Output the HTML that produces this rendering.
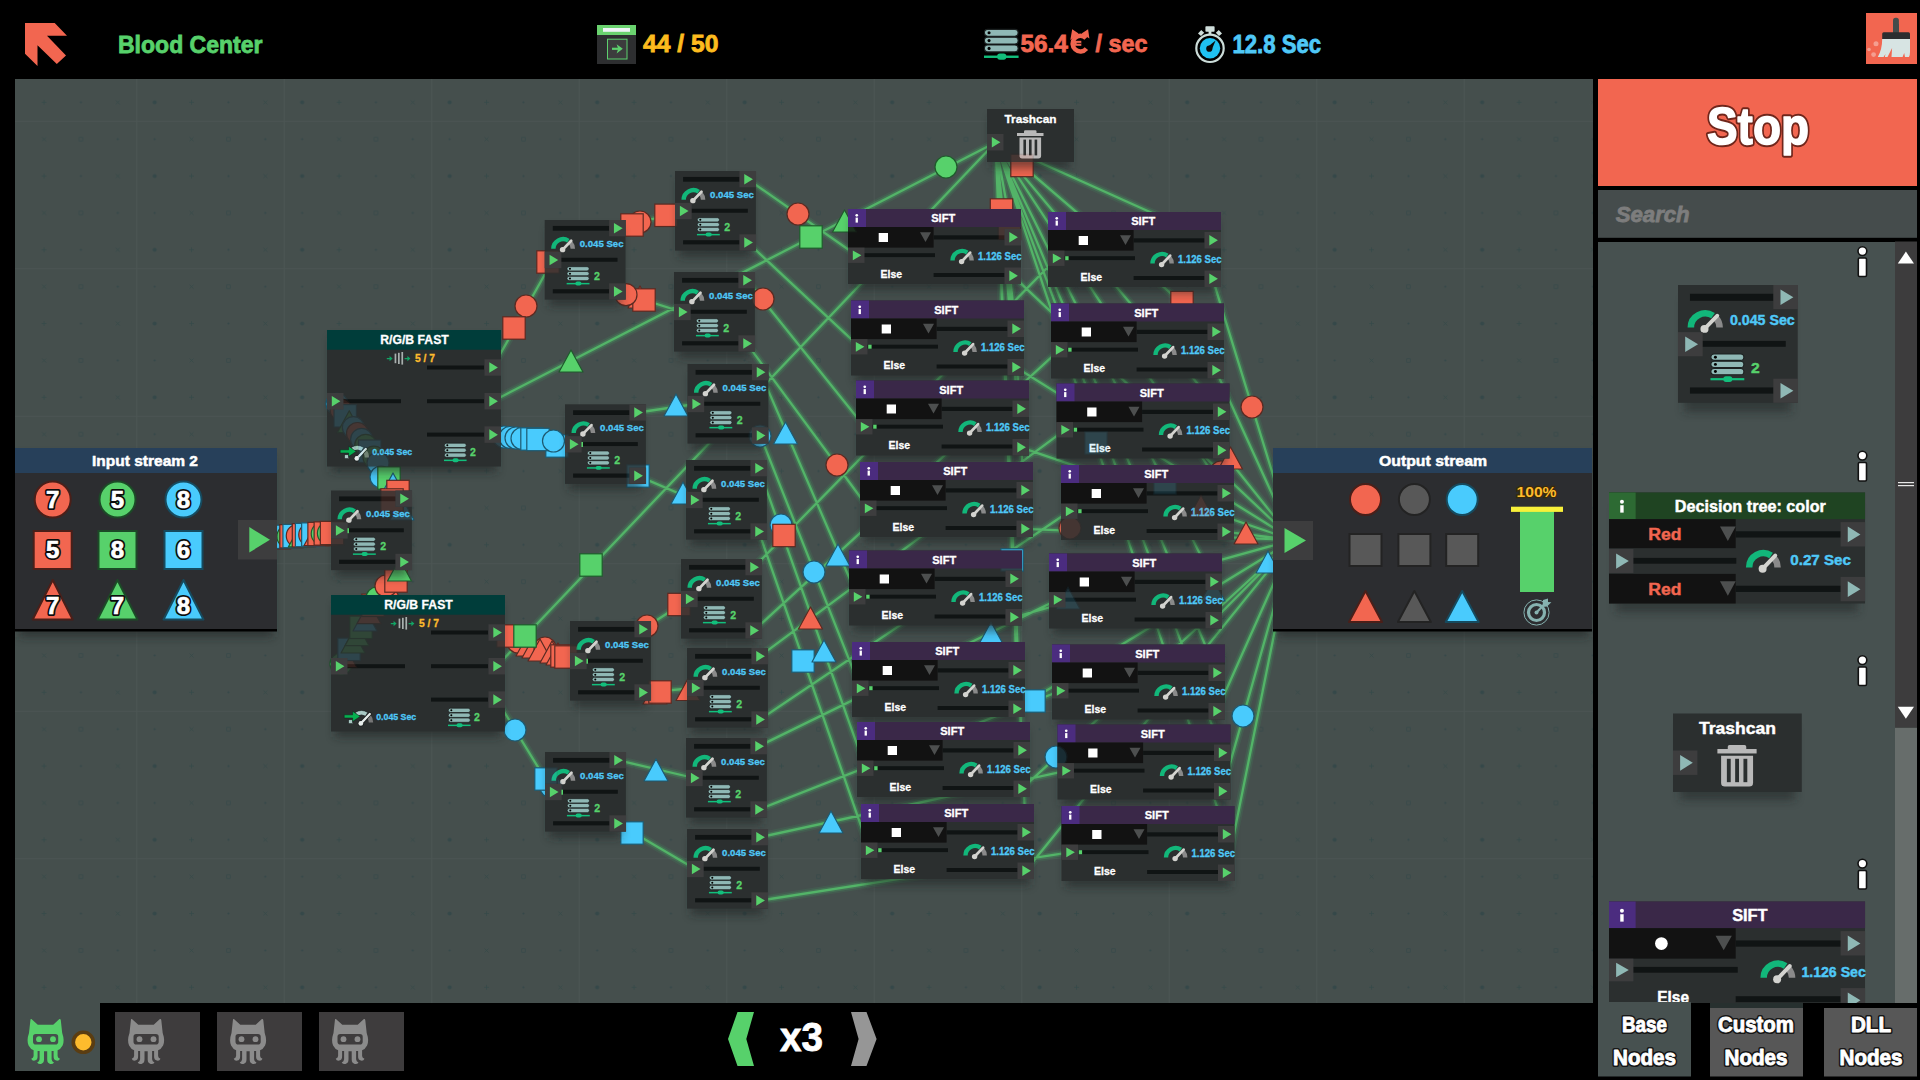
<!DOCTYPE html><html><head><meta charset="utf-8"><title>Blood Center</title>
<style>html,body{margin:0;padding:0;background:#000;width:1920px;height:1080px;overflow:hidden}svg{display:block}text{font-family:"Liberation Sans",sans-serif;font-weight:bold}</style></head><body>
<svg width="1920" height="1080" viewBox="0 0 1920 1080">
<defs>
<pattern id="grid" x="136.25" y="120.75" width="147.5" height="73.75" patternUnits="userSpaceOnUse">
<rect width="147.5" height="73.75" fill="#454f4d"/>
<rect x="0" y="0" width="1" height="73.75" fill="#4c5654"/>
<circle cx="18.44" cy="18.44" r="1.1" fill="#354849"/>
<path d="M53.31 16.44l4 4M57.31 16.44l-4 4" stroke="#354849" stroke-width="0.8"/>
<rect x="90.44" y="16.69" width="3.5" height="3.5" fill="none" stroke="#354849" stroke-width="0.7"/>
<circle cx="129.06" cy="18.44" r="1.1" fill="#354849"/>
<circle cx="18.44" cy="55.31" r="2.1" fill="#354849"/>
<path d="M52.81 55.31h5M55.31 52.81v5" stroke="#354849" stroke-width="0.8"/>
<circle cx="92.19" cy="55.31" r="1.1" fill="#354849"/>
<path d="M127.06 53.31l4 4M131.06 53.31l-4 4" stroke="#354849" stroke-width="0.8"/>
</pattern>
<g id="gauge"><path d="M0 12.2 A11.8 11.8 0 0 1 18.23 2.3 L15.83 5.99 A7.4 7.4 0 0 0 4.4 12.2 Z" fill="#12b77a"/><path d="M20.84 4.62 A11.8 11.8 0 0 1 23.6 12.2 L19.2 12.2 A7.4 7.4 0 0 0 17.47 7.44 Z" fill="#8a8a8a"/><path d="M11.4 13.1L19.8 4.2" stroke="#d3d3cf" stroke-width="2.7" stroke-linecap="round"/><circle cx="11.3" cy="13.2" r="2.7" fill="#d3d3cf"/></g>
<g id="gaugein"><path d="M5.55 2.19 A11.8 11.8 0 0 1 18.23 2.3 L15.83 5.99 A7.4 7.4 0 0 0 7.88 5.92 Z" fill="#a9c9c5" stroke="#161a1a" stroke-width="0.6"/><path d="M20.84 4.62 A11.8 11.8 0 0 1 23.6 12.2 L19.2 12.2 A7.4 7.4 0 0 0 17.47 7.44 Z" fill="#767676"/><path d="M11.3 13.2L20.2 3.8" stroke="#161a1a" stroke-width="3.6" stroke-linecap="round"/><circle cx="11.2" cy="13.2" r="3" fill="#161a1a"/><path d="M11.3 13.2L20.2 3.8" stroke="#e6ecea" stroke-width="2.3" stroke-linecap="round"/><circle cx="11.2" cy="13.2" r="2.4" fill="#e6ecea"/><rect x="-1" y="9.6" width="4" height="3.8" fill="#a9c9c5" stroke="#161a1a" stroke-width="0.5"/><path d="M-5.4 4.6H3V1L10.6 6.2L3 11.4V7.8H-5.4Z" fill="#06b050" stroke="#161a1a" stroke-width="0.5"/></g>
<g id="srv"><rect x="0.3" y="0.2" width="22" height="4.3" rx="2.1" fill="#8fb8b5" stroke="#1b2020" stroke-width="0.7"/><circle cx="3.3" cy="2.35" r="1" fill="#000"/><rect x="0.3" y="5.1" width="22" height="4.3" rx="2.1" fill="#8fb8b5" stroke="#1b2020" stroke-width="0.7"/><circle cx="3.3" cy="7.25" r="1" fill="#000"/><rect x="0.3" y="10" width="22" height="4.3" rx="2.1" fill="#8fb8b5" stroke="#1b2020" stroke-width="0.7"/><circle cx="3.3" cy="12.15" r="1" fill="#000"/><rect x="0" y="16.6" width="22.6" height="1.5" fill="#12bf7c"/><rect x="8.6" y="15.3" width="6" height="3.9" rx="1.8" fill="#12bf7c"/></g>
<g id="pt"><rect width="16.5" height="16.5" fill="#3d3d3e"/><path d="M4.8 3v10.6l8.6-5.3z" fill="#57d16b"/></g>
<g id="ptg"><rect width="16.5" height="16.5" fill="#3d3d3e"/><path d="M4.8 3v10.6l8.6-5.3z" fill="#8fb8b5"/></g>
<g id="sn"><g transform="scale(1.011 0.989)"><rect width="80" height="80.5" fill="#2b2f2f"/><rect x="8" y="6" width="56" height="4.8" fill="#101414"/><use href="#pt" x="63.7" y="0"/><use href="#gauge" x="6.4" y="16.8"/><text x="34.7" y="27.2" font-size="10" fill="#4fc8f7" textLength="43.3" lengthAdjust="spacingAndGlyphs" stroke="#4fc8f7" stroke-width="0.3">0.045 Sec</text><rect x="16" y="38.2" width="56" height="4" fill="#101414"/><use href="#pt" x="0" y="32.2"/><use href="#srv" x="21.7" y="47"/><text x="48.8" y="60.2" font-size="10.5" fill="#57d16b" stroke="#57d16b" stroke-width="0.3">2</text><rect x="8" y="70" width="56" height="4.2" fill="#101414"/><use href="#pt" x="63.7" y="64"/></g></g>
<g id="sng"><g transform="scale(1.011 0.989)"><rect width="80" height="80.5" fill="#2b2f2f"/><rect x="8" y="6" width="56" height="4.8" fill="#101414"/><use href="#ptg" x="63.7" y="0"/><use href="#gauge" x="6.4" y="16.8"/><text x="34.7" y="27.2" font-size="10" fill="#4fc8f7" textLength="43.3" lengthAdjust="spacingAndGlyphs" stroke="#4fc8f7" stroke-width="0.3">0.045 Sec</text><rect x="16" y="38.2" width="56" height="4" fill="#101414"/><use href="#ptg" x="0" y="32.2"/><use href="#srv" x="21.7" y="47"/><text x="48.8" y="60.2" font-size="10.5" fill="#57d16b" stroke="#57d16b" stroke-width="0.3">2</text><rect x="8" y="70" width="56" height="4.2" fill="#101414"/><use href="#ptg" x="63.7" y="64"/></g></g>
<g id="sift"><rect width="173" height="75" fill="#2b2f2f"/><rect width="173" height="18" fill="#3a2848"/><rect width="18" height="18" fill="#4b2c7f"/><rect x="7.6" y="8.6" width="2.3" height="5" fill="#fff"/><circle cx="8.75" cy="6.3" r="1.35" fill="#fff"/><text x="95.2" y="13" font-size="11.3" fill="#fff" text-anchor="middle" textLength="24" lengthAdjust="spacingAndGlyphs" stroke="#fff" stroke-width="0.3">SIFT</text><rect x="0" y="18" width="85.6" height="20.6" fill="#121212"/><rect x="30.7" y="24" width="9.3" height="9" fill="#fff"/><path d="M72 23.2h11l-5.5 9.8z" fill="#4d4f4f"/><rect x="85.6" y="26.3" width="71" height="4.2" fill="#101414"/><use href="#pt" x="156.5" y="20"/><rect x="16" y="44.2" width="71" height="3.9" fill="#101414"/><g transform="translate(0 38.6) scale(1 0.93)"><use href="#pt"/></g><use href="#gauge" x="102.3" y="39.4"/><text x="130" y="50.8" font-size="10" fill="#4fc8f7" textLength="43.5" lengthAdjust="spacingAndGlyphs" stroke="#4fc8f7" stroke-width="0.3">1.126 Sec</text><text x="32.6" y="68.8" font-size="11.2" fill="#fff" textLength="21.5" lengthAdjust="spacingAndGlyphs" stroke="#fff" stroke-width="0.3">Else</text><rect x="85.6" y="64" width="71" height="4" fill="#101414"/><use href="#pt" x="156.5" y="58.5"/></g>
<g id="siftg"><rect width="173" height="75" fill="#2b2f2f"/><rect width="173" height="18" fill="#3a2848"/><rect width="18" height="18" fill="#4b2c7f"/><rect x="7.6" y="8.6" width="2.3" height="5" fill="#fff"/><circle cx="8.75" cy="6.3" r="1.35" fill="#fff"/><text x="95.2" y="13" font-size="11.3" fill="#fff" text-anchor="middle" textLength="24" lengthAdjust="spacingAndGlyphs" stroke="#fff" stroke-width="0.3">SIFT</text><rect x="0" y="18" width="85.6" height="20.6" fill="#121212"/><circle cx="35.4" cy="28.4" r="4.3" fill="#fff"/><path d="M72 23.2h11l-5.5 9.8z" fill="#4d4f4f"/><rect x="85.6" y="26.3" width="71" height="4.2" fill="#101414"/><use href="#ptg" x="156.5" y="20"/><rect x="16" y="44.2" width="71" height="3.9" fill="#101414"/><g transform="translate(0 38.6) scale(1 0.93)"><use href="#ptg"/></g><use href="#gauge" x="102.3" y="39.4"/><text x="130" y="50.8" font-size="10" fill="#4fc8f7" textLength="43.5" lengthAdjust="spacingAndGlyphs" stroke="#4fc8f7" stroke-width="0.3">1.126 Sec</text><text x="32.6" y="68.8" font-size="11.2" fill="#fff" textLength="21.5" lengthAdjust="spacingAndGlyphs" stroke="#fff" stroke-width="0.3">Else</text><rect x="85.6" y="64" width="71" height="4" fill="#101414"/><use href="#ptg" x="156.5" y="58.5"/></g>
<g id="trash"><rect width="87" height="53" fill="#2b2f2f"/><text x="43.5" y="13.6" font-size="11.3" fill="#fff" text-anchor="middle" textLength="52" lengthAdjust="spacingAndGlyphs" stroke="#fff" stroke-width="0.3">Trashcan</text><use href="#pt" x="0" y="25"/><g fill="#b9b9b9"><rect x="30" y="24" width="26.5" height="3" /><rect x="37" y="21.3" width="12.5" height="3.6" rx="1.2"/><path d="M32.5 28.6h21.6v18.2q0 2.6-2.6 2.6h-16.4q-2.6 0-2.6-2.6z"/></g><g fill="#2b2f2f"><rect x="36.4" y="30.6" width="2.6" height="15.8"/><rect x="42" y="30.6" width="2.6" height="15.8"/><rect x="47.6" y="30.6" width="2.6" height="15.8"/></g></g>
<g id="trashg"><rect width="87" height="53" fill="#2b2f2f"/><text x="43.5" y="13.6" font-size="11.3" fill="#fff" text-anchor="middle" textLength="52" lengthAdjust="spacingAndGlyphs" stroke="#fff" stroke-width="0.3">Trashcan</text><use href="#ptg" x="0" y="25"/><g fill="#b9b9b9"><rect x="30" y="24" width="26.5" height="3" /><rect x="37" y="21.3" width="12.5" height="3.6" rx="1.2"/><path d="M32.5 28.6h21.6v18.2q0 2.6-2.6 2.6h-16.4q-2.6 0-2.6-2.6z"/></g><g fill="#2b2f2f"><rect x="36.4" y="30.6" width="2.6" height="15.8"/><rect x="42" y="30.6" width="2.6" height="15.8"/><rect x="47.6" y="30.6" width="2.6" height="15.8"/></g></g>
<g id="rgb"><rect width="174" height="136.5" fill="#2b2f2f"/><rect width="174" height="19.7" fill="#003d3a"/><text x="87.5" y="13.8" font-size="12.3" fill="#fff" text-anchor="middle" textLength="68.5" lengthAdjust="spacingAndGlyphs" stroke="#fff" stroke-width="0.3">R/G/B FAST</text><g stroke="#12a565" stroke-width="1.2" fill="#12a565"><path d="M59.8 28.6h3.6M77.6 28.6h3.6" fill="none"/><path d="M62.6 26l3 2.6-3 2.6zM80.4 26l3 2.6-3 2.6z" stroke="none"/></g><g fill="#a8b0ae"><rect x="67.6" y="23.6" width="1.7" height="9.6"/><rect x="71" y="22.8" width="1.7" height="11.2"/><rect x="74.4" y="22" width="1.7" height="12.6"/></g><text x="88" y="32.2" font-size="10" fill="#fdbb2d" textLength="20" lengthAdjust="spacingAndGlyphs" stroke="#fdbb2d" stroke-width="0.3">5 / 7</text><rect x="100" y="35.5" width="57" height="4" fill="#101414"/><use href="#pt" x="157.5" y="29.25"/><rect x="100" y="69.2" width="57" height="4" fill="#101414"/><use href="#pt" x="157.5" y="62.95"/><rect x="100" y="102.6" width="57" height="4" fill="#101414"/><use href="#pt" x="157.5" y="96.35"/><rect x="16" y="69.2" width="58" height="4" fill="#101414"/><use href="#pt" x="0" y="63"/><use href="#gaugein" x="18.6" y="115.2"/><text x="45.2" y="124.8" font-size="9.8" fill="#4fc8f7" textLength="40" lengthAdjust="spacingAndGlyphs" stroke="#4fc8f7" stroke-width="0.3">0.045 Sec</text><use href="#srv" x="117" y="113"/><text x="143" y="126" font-size="10.5" fill="#57d16b" stroke="#57d16b" stroke-width="0.3">2</text></g>
<filter id="sh" x="-20%" y="-20%" width="140%" height="160%"><feGaussianBlur stdDeviation="5"/></filter>
<clipPath id="cv"><rect x="15" y="79" width="1578" height="924"/></clipPath>
<clipPath id="bodies"><path clip-rule="evenodd" d="M331 490.5h81v79.7h-81zM395.3 490.5h16.7v16.4h-16.7zM395.3 553.8h16.7v16.4h-16.7zM331 522.3h16.7v16.4h-16.7zM544.7 220h81v79.7h-81zM609 220h16.7v16.4h-16.7zM609 283.3h16.7v16.4h-16.7zM544.7 251.8h16.7v16.4h-16.7zM565 404.3h81v79.7h-81zM629.3 404.3h16.7v16.4h-16.7zM629.3 467.6h16.7v16.4h-16.7zM565 436.1h16.7v16.4h-16.7zM570 621h81v79.7h-81zM634.3 621h16.7v16.4h-16.7zM634.3 684.3h16.7v16.4h-16.7zM570 652.8h16.7v16.4h-16.7zM545 752h81v79.7h-81zM609.3 752h16.7v16.4h-16.7zM609.3 815.3h16.7v16.4h-16.7zM545 783.8h16.7v16.4h-16.7zM675 171h81v79.7h-81zM739.3 171h16.7v16.4h-16.7zM739.3 234.3h16.7v16.4h-16.7zM675 202.8h16.7v16.4h-16.7zM674 272h81v79.7h-81zM738.3 272h16.7v16.4h-16.7zM738.3 335.3h16.7v16.4h-16.7zM674 303.8h16.7v16.4h-16.7zM687.5 364h81v79.7h-81zM751.8 364h16.7v16.4h-16.7zM751.8 427.3h16.7v16.4h-16.7zM687.5 395.8h16.7v16.4h-16.7zM686 460h81v79.7h-81zM750.3 460h16.7v16.4h-16.7zM750.3 523.3h16.7v16.4h-16.7zM686 491.8h16.7v16.4h-16.7zM681 559h81v79.7h-81zM745.3 559h16.7v16.4h-16.7zM745.3 622.3h16.7v16.4h-16.7zM681 590.8h16.7v16.4h-16.7zM687 648h81v79.7h-81zM751.3 648h16.7v16.4h-16.7zM751.3 711.3h16.7v16.4h-16.7zM687 679.8h16.7v16.4h-16.7zM686 738h81v79.7h-81zM750.3 738h16.7v16.4h-16.7zM750.3 801.3h16.7v16.4h-16.7zM686 769.8h16.7v16.4h-16.7zM687 829h81v79.7h-81zM751.3 829h16.7v16.4h-16.7zM751.3 892.3h16.7v16.4h-16.7zM687 860.8h16.7v16.4h-16.7zM848 227h173v57h-173zM1004.5 229h16.5v16.5h-16.5zM1004.5 267.5h16.5v16.5h-16.5zM848 247.6h16.5v15.4h-16.5zM851 318.5h173v57h-173zM1007.5 320.5h16.5v16.5h-16.5zM1007.5 359h16.5v16.5h-16.5zM851 339.1h16.5v15.4h-16.5zM856 398.5h173v57h-173zM1012.5 400.5h16.5v16.5h-16.5zM1012.5 439h16.5v16.5h-16.5zM856 419.1h16.5v15.4h-16.5zM860 480h173v57h-173zM1016.5 482h16.5v16.5h-16.5zM1016.5 520.5h16.5v16.5h-16.5zM860 500.6h16.5v15.4h-16.5zM849 568.5h173v57h-173zM1005.5 570.5h16.5v16.5h-16.5zM1005.5 609h16.5v16.5h-16.5zM849 589.1h16.5v15.4h-16.5zM852 660h173v57h-173zM1008.5 662h16.5v16.5h-16.5zM1008.5 700.5h16.5v16.5h-16.5zM852 680.6h16.5v15.4h-16.5zM857 740h173v57h-173zM1013.5 742h16.5v16.5h-16.5zM1013.5 780.5h16.5v16.5h-16.5zM857 760.6h16.5v15.4h-16.5zM861 822h173v57h-173zM1017.5 824h16.5v16.5h-16.5zM1017.5 862.5h16.5v16.5h-16.5zM861 842.6h16.5v15.4h-16.5zM1048 230h173v57h-173zM1204.5 232h16.5v16.5h-16.5zM1204.5 270.5h16.5v16.5h-16.5zM1048 250.6h16.5v15.4h-16.5zM1051 321.5h173v57h-173zM1207.5 323.5h16.5v16.5h-16.5zM1207.5 362h16.5v16.5h-16.5zM1051 342.1h16.5v15.4h-16.5zM1056.5 401.5h173v57h-173zM1213 403.5h16.5v16.5h-16.5zM1213 442h16.5v16.5h-16.5zM1056.5 422.1h16.5v15.4h-16.5zM1061 483h173v57h-173zM1217.5 485h16.5v16.5h-16.5zM1217.5 523.5h16.5v16.5h-16.5zM1061 503.6h16.5v15.4h-16.5zM1049 571.5h173v57h-173zM1205.5 573.5h16.5v16.5h-16.5zM1205.5 612h16.5v16.5h-16.5zM1049 592.1h16.5v15.4h-16.5zM1052 662.5h173v57h-173zM1208.5 664.5h16.5v16.5h-16.5zM1208.5 703h16.5v16.5h-16.5zM1052 683.1h16.5v15.4h-16.5zM1057.5 742.5h173v57h-173zM1214 744.5h16.5v16.5h-16.5zM1214 783h16.5v16.5h-16.5zM1057.5 763.1h16.5v15.4h-16.5zM1061.5 824h173v57h-173zM1218 826h16.5v16.5h-16.5zM1218 864.5h16.5v16.5h-16.5zM1061.5 844.6h16.5v15.4h-16.5zM327 349.7h174v116.8h-174zM327 393h16.5v16.5h-16.5zM484.5 359.25h16.5v16.5h-16.5zM484.5 392.95h16.5v16.5h-16.5zM484.5 426.35h16.5v16.5h-16.5zM331 614.7h174v116.8h-174zM331 658h16.5v16.5h-16.5zM488.5 624.25h16.5v16.5h-16.5zM488.5 657.95h16.5v16.5h-16.5zM488.5 691.35h16.5v16.5h-16.5zM987 109h87v53h-87zM987 134h16.5v16.5h-16.5z"/></clipPath>
<clipPath id="pn"><rect x="1597" y="241" width="298" height="762"/></clipPath>
</defs>
<rect width="1920" height="1080" fill="#000"/>
<g clip-path="url(#cv)">
<rect x="15" y="79" width="1578" height="924" fill="url(#grid)"/>
<rect x="15" y="120.75" width="1578" height="1" fill="#4c5654"/>
<rect x="15" y="268.25" width="1578" height="1" fill="#4c5654"/>
<rect x="15" y="415.75" width="1578" height="1" fill="#4c5654"/>
<rect x="15" y="563.25" width="1578" height="1" fill="#4c5654"/>
<rect x="15" y="710.75" width="1578" height="1" fill="#4c5654"/>
<rect x="15" y="858.25" width="1578" height="1" fill="#4c5654"/>
<path d="M258 540L339.2 530.5M403.8 498.7L335.5 401.2M403.8 562.1L339.5 666.2M492.7 367.5L552.9 260M492.7 401.2L995.5 142.5M492.7 434.6L573.2 444.3M496.7 632.5L578.2 661M496.7 666.2L995.5 142.5M496.7 699.6L553.2 792M617.5 228.2L683.2 211M617.5 291.6L682.2 312M637.8 412.5L695.7 404M637.8 475.9L694.2 500M642.8 629.2L689.2 599M642.8 692.6L695.2 688M617.8 760.2L694.2 778M617.8 823.6L695.2 869M747.8 179.2L856.5 255.3M747.8 242.6L859.5 346.8M746.8 280.2L864.5 426.8M746.8 343.6L868.5 508.3M760.3 372.2L857.5 596.8M760.3 435.6L860.5 688.3M758.8 468.2L865.5 768.3M758.8 531.6L869.5 850.3M753.8 567.2L1056.5 258.3M753.8 630.6L1059.5 349.8M759.8 656.2L1065 429.8M759.8 719.6L1069.5 511.3M758.8 746.2L1057.5 599.8M758.8 809.6L1060.5 690.8M759.8 837.2L1066 770.8M759.8 900.6L1070 852.3M1012.7 237.3L995.5 142.5M1012.7 275.8L1293 540M1015.7 328.8L995.5 142.5M1015.7 367.3L1293 540M1020.7 408.8L995.5 142.5M1020.7 447.3L1293 540M1024.7 490.3L995.5 142.5M1024.7 528.8L1293 540M1013.7 578.8L995.5 142.5M1013.7 617.3L1293 540M1016.7 670.3L995.5 142.5M1016.7 708.8L1293 540M1021.7 750.3L995.5 142.5M1021.7 788.8L1293 540M1025.7 832.3L995.5 142.5M1025.7 870.8L1293 540M1212.7 240.3L995.5 142.5M1212.7 278.8L1293 540M1215.7 331.8L995.5 142.5M1215.7 370.3L1293 540M1221.2 411.8L995.5 142.5M1221.2 450.3L1293 540M1225.7 493.3L995.5 142.5M1225.7 531.8L1293 540M1213.7 581.8L995.5 142.5M1213.7 620.3L1293 540M1216.7 672.8L995.5 142.5M1216.7 711.3L1293 540M1222.2 752.8L995.5 142.5M1222.2 791.3L1293 540M1226.2 834.3L995.5 142.5M1226.2 872.8L1293 540" fill="none" stroke="#45c068" stroke-opacity="0.10" stroke-width="9" stroke-linecap="round"/>
<path d="M258 540L339.2 530.5M403.8 498.7L335.5 401.2M403.8 562.1L339.5 666.2M492.7 367.5L552.9 260M492.7 401.2L995.5 142.5M492.7 434.6L573.2 444.3M496.7 632.5L578.2 661M496.7 666.2L995.5 142.5M496.7 699.6L553.2 792M617.5 228.2L683.2 211M617.5 291.6L682.2 312M637.8 412.5L695.7 404M637.8 475.9L694.2 500M642.8 629.2L689.2 599M642.8 692.6L695.2 688M617.8 760.2L694.2 778M617.8 823.6L695.2 869M747.8 179.2L856.5 255.3M747.8 242.6L859.5 346.8M746.8 280.2L864.5 426.8M746.8 343.6L868.5 508.3M760.3 372.2L857.5 596.8M760.3 435.6L860.5 688.3M758.8 468.2L865.5 768.3M758.8 531.6L869.5 850.3M753.8 567.2L1056.5 258.3M753.8 630.6L1059.5 349.8M759.8 656.2L1065 429.8M759.8 719.6L1069.5 511.3M758.8 746.2L1057.5 599.8M758.8 809.6L1060.5 690.8M759.8 837.2L1066 770.8M759.8 900.6L1070 852.3M1012.7 237.3L995.5 142.5M1012.7 275.8L1293 540M1015.7 328.8L995.5 142.5M1015.7 367.3L1293 540M1020.7 408.8L995.5 142.5M1020.7 447.3L1293 540M1024.7 490.3L995.5 142.5M1024.7 528.8L1293 540M1013.7 578.8L995.5 142.5M1013.7 617.3L1293 540M1016.7 670.3L995.5 142.5M1016.7 708.8L1293 540M1021.7 750.3L995.5 142.5M1021.7 788.8L1293 540M1025.7 832.3L995.5 142.5M1025.7 870.8L1293 540M1212.7 240.3L995.5 142.5M1212.7 278.8L1293 540M1215.7 331.8L995.5 142.5M1215.7 370.3L1293 540M1221.2 411.8L995.5 142.5M1221.2 450.3L1293 540M1225.7 493.3L995.5 142.5M1225.7 531.8L1293 540M1213.7 581.8L995.5 142.5M1213.7 620.3L1293 540M1216.7 672.8L995.5 142.5M1216.7 711.3L1293 540M1222.2 752.8L995.5 142.5M1222.2 791.3L1293 540M1226.2 834.3L995.5 142.5M1226.2 872.8L1293 540" fill="none" stroke="#48b865" stroke-opacity="0.26" stroke-width="5.4" stroke-linecap="round"/>
<path d="M258 540L339.2 530.5M403.8 498.7L335.5 401.2M403.8 562.1L339.5 666.2M492.7 367.5L552.9 260M492.7 401.2L995.5 142.5M492.7 434.6L573.2 444.3M496.7 632.5L578.2 661M496.7 666.2L995.5 142.5M496.7 699.6L553.2 792M617.5 228.2L683.2 211M617.5 291.6L682.2 312M637.8 412.5L695.7 404M637.8 475.9L694.2 500M642.8 629.2L689.2 599M642.8 692.6L695.2 688M617.8 760.2L694.2 778M617.8 823.6L695.2 869M747.8 179.2L856.5 255.3M747.8 242.6L859.5 346.8M746.8 280.2L864.5 426.8M746.8 343.6L868.5 508.3M760.3 372.2L857.5 596.8M760.3 435.6L860.5 688.3M758.8 468.2L865.5 768.3M758.8 531.6L869.5 850.3M753.8 567.2L1056.5 258.3M753.8 630.6L1059.5 349.8M759.8 656.2L1065 429.8M759.8 719.6L1069.5 511.3M758.8 746.2L1057.5 599.8M758.8 809.6L1060.5 690.8M759.8 837.2L1066 770.8M759.8 900.6L1070 852.3M1012.7 237.3L995.5 142.5M1012.7 275.8L1293 540M1015.7 328.8L995.5 142.5M1015.7 367.3L1293 540M1020.7 408.8L995.5 142.5M1020.7 447.3L1293 540M1024.7 490.3L995.5 142.5M1024.7 528.8L1293 540M1013.7 578.8L995.5 142.5M1013.7 617.3L1293 540M1016.7 670.3L995.5 142.5M1016.7 708.8L1293 540M1021.7 750.3L995.5 142.5M1021.7 788.8L1293 540M1025.7 832.3L995.5 142.5M1025.7 870.8L1293 540M1212.7 240.3L995.5 142.5M1212.7 278.8L1293 540M1215.7 331.8L995.5 142.5M1215.7 370.3L1293 540M1221.2 411.8L995.5 142.5M1221.2 450.3L1293 540M1225.7 493.3L995.5 142.5M1225.7 531.8L1293 540M1213.7 581.8L995.5 142.5M1213.7 620.3L1293 540M1216.7 672.8L995.5 142.5M1216.7 711.3L1293 540M1222.2 752.8L995.5 142.5M1222.2 791.3L1293 540M1226.2 834.3L995.5 142.5M1226.2 872.8L1293 540" fill="none" stroke="#53b468" stroke-width="2.3" stroke-linecap="round"/>
<g><rect x="267.35" y="525.65" width="23.3" height="23.3" fill="#f26650" stroke="#5a2a22" stroke-width="1.2"/><circle cx="282.12" cy="537.05" r="11.44" fill="#49cbfd" stroke="#1d5970" stroke-width="1.2"/><rect x="273.59" y="525.15" width="23.3" height="23.3" fill="#49cbfd" stroke="#1d5970" stroke-width="1.2"/><circle cx="288.35" cy="536.54" r="11.44" fill="#57d16b" stroke="#1f5a2c" stroke-width="1.2"/><rect x="279.82" y="524.64" width="23.3" height="23.3" fill="#f26650" stroke="#5a2a22" stroke-width="1.2"/><rect x="282.94" y="524.39" width="23.3" height="23.3" fill="#49cbfd" stroke="#1d5970" stroke-width="1.2"/><circle cx="297.71" cy="535.78" r="11.44" fill="#f26650" stroke="#5a2a22" stroke-width="1.2"/><path d="M300.82 524.09L313.3 546.97L288.34 546.97Z" fill="#57d16b" stroke="#1f5a2c" stroke-width="1.2" stroke-linejoin="round"/><rect x="292.29" y="523.63" width="23.3" height="23.3" fill="#f26650" stroke="#5a2a22" stroke-width="1.2"/><rect x="295.41" y="523.38" width="23.3" height="23.3" fill="#49cbfd" stroke="#1d5970" stroke-width="1.2"/><circle cx="310.18" cy="534.77" r="11.44" fill="#f26650" stroke="#5a2a22" stroke-width="1.2"/><rect x="301.65" y="522.87" width="23.3" height="23.3" fill="#49cbfd" stroke="#1d5970" stroke-width="1.2"/><path d="M316.41 522.82L328.89 545.7L303.93 545.7Z" fill="#f26650" stroke="#5a2a22" stroke-width="1.2" stroke-linejoin="round"/><rect x="307.88" y="522.36" width="23.3" height="23.3" fill="#f26650" stroke="#5a2a22" stroke-width="1.2"/><circle cx="322.65" cy="533.76" r="11.44" fill="#57d16b" stroke="#1f5a2c" stroke-width="1.2"/><rect x="314.12" y="521.86" width="23.3" height="23.3" fill="#f26650" stroke="#5a2a22" stroke-width="1.2"/><circle cx="328.88" cy="533.25" r="11.44" fill="#57d16b" stroke="#1f5a2c" stroke-width="1.2"/><rect x="320.35" y="521.35" width="23.3" height="23.3" fill="#f26650" stroke="#5a2a22" stroke-width="1.2"/><circle cx="337" cy="404" r="11" fill="#49cbfd" stroke="#1d5970" stroke-width="1.2"/><circle cx="341.1" cy="409.9" r="11" fill="#f26650" stroke="#5a2a22" stroke-width="1.2"/><rect x="334" y="404.6" width="22.4" height="22.4" fill="#49cbfd" stroke="#1d5970" stroke-width="1.2"/><path d="M349.3 410.7L361.3 432.7L337.3 432.7Z" fill="#57d16b" stroke="#1f5a2c" stroke-width="1.2" stroke-linejoin="round"/><circle cx="353.4" cy="427.6" r="11" fill="#49cbfd" stroke="#1d5970" stroke-width="1.2"/><circle cx="357.5" cy="433.5" r="11" fill="#f26650" stroke="#5a2a22" stroke-width="1.2"/><circle cx="361.6" cy="439.4" r="11" fill="#49cbfd" stroke="#1d5970" stroke-width="1.2"/><circle cx="365.7" cy="445.3" r="11" fill="#57d16b" stroke="#1f5a2c" stroke-width="1.2"/><rect x="358.6" y="440" width="22.4" height="22.4" fill="#49cbfd" stroke="#1d5970" stroke-width="1.2"/><circle cx="373.9" cy="457.1" r="11" fill="#57d16b" stroke="#1f5a2c" stroke-width="1.2"/><circle cx="378" cy="463" r="11" fill="#49cbfd" stroke="#1d5970" stroke-width="1.2"/><circle cx="381" cy="477" r="11" fill="#49cbfd" stroke="#1d5970" stroke-width="1.2"/><rect x="377.8" y="466.8" width="22.4" height="22.4" fill="#57d16b" stroke="#1f5a2c" stroke-width="1.2"/><path d="M393 473L405 495L381 495Z" fill="#49cbfd" stroke="#1d5970" stroke-width="1.2" stroke-linejoin="round"/><rect x="386.8" y="480.3" width="22.4" height="22.4" fill="#f26650" stroke="#5a2a22" stroke-width="1.2"/><path d="M402 498L414 520L390 520Z" fill="#49cbfd" stroke="#1d5970" stroke-width="1.2" stroke-linejoin="round"/><rect x="380.8" y="488.8" width="22.4" height="22.4" fill="#f26650" stroke="#5a2a22" stroke-width="1.2"/><circle cx="341" cy="664" r="11" fill="#57d16b" stroke="#1f5a2c" stroke-width="1.2"/><path d="M345 645.67L357 667.67L333 667.67Z" fill="#f26650" stroke="#5a2a22" stroke-width="1.2" stroke-linejoin="round"/><rect x="337.8" y="638.13" width="22.4" height="22.4" fill="#49cbfd" stroke="#1d5970" stroke-width="1.2"/><path d="M353 631L365 653L341 653Z" fill="#57d16b" stroke="#1f5a2c" stroke-width="1.2" stroke-linejoin="round"/><path d="M357 623.67L369 645.67L345 645.67Z" fill="#57d16b" stroke="#1f5a2c" stroke-width="1.2" stroke-linejoin="round"/><rect x="349.8" y="616.13" width="22.4" height="22.4" fill="#57d16b" stroke="#1f5a2c" stroke-width="1.2"/><path d="M365 609L377 631L353 631Z" fill="#49cbfd" stroke="#1d5970" stroke-width="1.2" stroke-linejoin="round"/><path d="M369 601.67L381 623.67L357 623.67Z" fill="#f26650" stroke="#5a2a22" stroke-width="1.2" stroke-linejoin="round"/><rect x="361.8" y="594.13" width="22.4" height="22.4" fill="#f26650" stroke="#5a2a22" stroke-width="1.2"/><circle cx="377" cy="598" r="11" fill="#57d16b" stroke="#1f5a2c" stroke-width="1.2"/><path d="M390 580L402 602L378 602Z" fill="#f26650" stroke="#5a2a22" stroke-width="1.2" stroke-linejoin="round"/><circle cx="386" cy="586" r="11" fill="#f26650" stroke="#5a2a22" stroke-width="1.2"/><rect x="384.8" y="569.8" width="22.4" height="22.4" fill="#f26650" stroke="#5a2a22" stroke-width="1.2"/><path d="M399.5 559L411.5 581L387.5 581Z" fill="#57d16b" stroke="#1f5a2c" stroke-width="1.2" stroke-linejoin="round"/><circle cx="526" cy="306" r="11" fill="#f26650" stroke="#5a2a22" stroke-width="1.2"/><rect x="502.8" y="316.8" width="22.4" height="22.4" fill="#f26650" stroke="#5a2a22" stroke-width="1.2"/><rect x="536.8" y="250.8" width="22.4" height="22.4" fill="#f26650" stroke="#5a2a22" stroke-width="1.2"/><circle cx="640" cy="222" r="11" fill="#f26650" stroke="#5a2a22" stroke-width="1.2"/><rect x="620.8" y="213.8" width="22.4" height="22.4" fill="#f26650" stroke="#5a2a22" stroke-width="1.2"/><rect x="654.8" y="204.1" width="22.4" height="22.4" fill="#f26650" stroke="#5a2a22" stroke-width="1.2"/><path d="M640 286L652 308L628 308Z" fill="#f26650" stroke="#5a2a22" stroke-width="1.2" stroke-linejoin="round"/><rect x="632.8" y="288.8" width="22.4" height="22.4" fill="#f26650" stroke="#5a2a22" stroke-width="1.2"/><circle cx="626" cy="294.7" r="11" fill="#f26650" stroke="#5a2a22" stroke-width="1.2"/><path d="M571 350L583 372L559 372Z" fill="#57d16b" stroke="#1f5a2c" stroke-width="1.2" stroke-linejoin="round"/><rect x="799.8" y="225.8" width="22.4" height="22.4" fill="#57d16b" stroke="#1f5a2c" stroke-width="1.2"/><circle cx="946" cy="167" r="11" fill="#57d16b" stroke="#1f5a2c" stroke-width="1.2"/><path d="M844.5 210L856.5 232L832.5 232Z" fill="#57d16b" stroke="#1f5a2c" stroke-width="1.2" stroke-linejoin="round"/><rect x="579.8" y="553.8" width="22.4" height="22.4" fill="#57d16b" stroke="#1f5a2c" stroke-width="1.2"/><rect x="545.8" y="434.8" width="22.4" height="22.4" fill="#49cbfd" stroke="#1d5970" stroke-width="1.2"/><circle cx="504" cy="437" r="11" fill="#49cbfd" stroke="#1d5970" stroke-width="1.2"/><circle cx="510" cy="437.5" r="11" fill="#49cbfd" stroke="#1d5970" stroke-width="1.2"/><circle cx="516" cy="438" r="11" fill="#49cbfd" stroke="#1d5970" stroke-width="1.2"/><circle cx="522" cy="438.5" r="11" fill="#49cbfd" stroke="#1d5970" stroke-width="1.2"/><rect x="520.8" y="427.8" width="22.4" height="22.4" fill="#49cbfd" stroke="#1d5970" stroke-width="1.2"/><rect x="526.8" y="428.3" width="22.4" height="22.4" fill="#49cbfd" stroke="#1d5970" stroke-width="1.2"/><circle cx="553.5" cy="441" r="11" fill="#49cbfd" stroke="#1d5970" stroke-width="1.2"/><circle cx="518" cy="642" r="11" fill="#f26650" stroke="#5a2a22" stroke-width="1.2"/><path d="M528 634L540 656L516 656Z" fill="#f26650" stroke="#5a2a22" stroke-width="1.2" stroke-linejoin="round"/><path d="M534 636L546 658L522 658Z" fill="#f26650" stroke="#5a2a22" stroke-width="1.2" stroke-linejoin="round"/><circle cx="545" cy="648" r="11" fill="#f26650" stroke="#5a2a22" stroke-width="1.2"/><path d="M540 639L552 661L528 661Z" fill="#f26650" stroke="#5a2a22" stroke-width="1.2" stroke-linejoin="round"/><path d="M552 641L564 663L540 663Z" fill="#f26650" stroke="#5a2a22" stroke-width="1.2" stroke-linejoin="round"/><path d="M558 643L570 665L546 665Z" fill="#f26650" stroke="#5a2a22" stroke-width="1.2" stroke-linejoin="round"/><rect x="550.8" y="644.8" width="22.4" height="22.4" fill="#f26650" stroke="#5a2a22" stroke-width="1.2"/><rect x="554.8" y="645.8" width="22.4" height="22.4" fill="#f26650" stroke="#5a2a22" stroke-width="1.2"/><rect x="496.8" y="624.8" width="22.4" height="22.4" fill="#f26650" stroke="#5a2a22" stroke-width="1.2"/><rect x="513.8" y="624.8" width="22.4" height="22.4" fill="#57d16b" stroke="#1f5a2c" stroke-width="1.2"/><path d="M676 394L688 416L664 416Z" fill="#49cbfd" stroke="#1d5970" stroke-width="1.2" stroke-linejoin="round"/><rect x="626.8" y="464.8" width="22.4" height="22.4" fill="#49cbfd" stroke="#1d5970" stroke-width="1.2"/><path d="M683 482L695 504L671 504Z" fill="#49cbfd" stroke="#1d5970" stroke-width="1.2" stroke-linejoin="round"/><circle cx="647" cy="626" r="11" fill="#f26650" stroke="#5a2a22" stroke-width="1.2"/><rect x="667.8" y="593.3" width="22.4" height="22.4" fill="#f26650" stroke="#5a2a22" stroke-width="1.2"/><path d="M655 682L667 704L643 704Z" fill="#f26650" stroke="#5a2a22" stroke-width="1.2" stroke-linejoin="round"/><rect x="648.8" y="680.8" width="22.4" height="22.4" fill="#f26650" stroke="#5a2a22" stroke-width="1.2"/><path d="M688 678.5L700 700.5L676 700.5Z" fill="#f26650" stroke="#5a2a22" stroke-width="1.2" stroke-linejoin="round"/><circle cx="515" cy="730" r="11" fill="#49cbfd" stroke="#1d5970" stroke-width="1.2"/><circle cx="551" cy="787" r="11" fill="#49cbfd" stroke="#1d5970" stroke-width="1.2"/><rect x="534.8" y="767.8" width="22.4" height="22.4" fill="#49cbfd" stroke="#1d5970" stroke-width="1.2"/><path d="M656 759L668 781L644 781Z" fill="#49cbfd" stroke="#1d5970" stroke-width="1.2" stroke-linejoin="round"/><rect x="620.8" y="821.8" width="22.4" height="22.4" fill="#49cbfd" stroke="#1d5970" stroke-width="1.2"/><circle cx="798" cy="214" r="11" fill="#f26650" stroke="#5a2a22" stroke-width="1.2"/><circle cx="763" cy="299" r="11" fill="#f26650" stroke="#5a2a22" stroke-width="1.2"/><circle cx="837" cy="465" r="11" fill="#f26650" stroke="#5a2a22" stroke-width="1.2"/><circle cx="760" cy="436" r="11" fill="#49cbfd" stroke="#1d5970" stroke-width="1.2"/><path d="M785.5 422L797.5 444L773.5 444Z" fill="#49cbfd" stroke="#1d5970" stroke-width="1.2" stroke-linejoin="round"/><circle cx="781" cy="525" r="11" fill="#49cbfd" stroke="#1d5970" stroke-width="1.2"/><rect x="772.8" y="524.3" width="22.4" height="22.4" fill="#f26650" stroke="#5a2a22" stroke-width="1.2"/><circle cx="814" cy="572" r="11" fill="#49cbfd" stroke="#1d5970" stroke-width="1.2"/><path d="M838 544L850 566L826 566Z" fill="#49cbfd" stroke="#1d5970" stroke-width="1.2" stroke-linejoin="round"/><path d="M810.5 607L822.5 629L798.5 629Z" fill="#f26650" stroke="#5a2a22" stroke-width="1.2" stroke-linejoin="round"/><rect x="791.8" y="649.8" width="22.4" height="22.4" fill="#49cbfd" stroke="#1d5970" stroke-width="1.2"/><path d="M824 640L836 662L812 662Z" fill="#49cbfd" stroke="#1d5970" stroke-width="1.2" stroke-linejoin="round"/><path d="M831 811L843 833L819 833Z" fill="#49cbfd" stroke="#1d5970" stroke-width="1.2" stroke-linejoin="round"/><rect x="1010.8" y="154.3" width="22.4" height="22.4" fill="#f26650" stroke="#5a2a22" stroke-width="1.2"/><rect x="990.3" y="198.8" width="22.4" height="22.4" fill="#f26650" stroke="#5a2a22" stroke-width="1.2"/><rect x="1170.8" y="291.3" width="22.4" height="22.4" fill="#f26650" stroke="#5a2a22" stroke-width="1.2"/><rect x="1084.8" y="431.8" width="22.4" height="22.4" fill="#49cbfd" stroke="#1d5970" stroke-width="1.2"/><rect x="1153.8" y="471.8" width="22.4" height="22.4" fill="#49cbfd" stroke="#1d5970" stroke-width="1.2"/><path d="M1201 495L1213 517L1189 517Z" fill="#f26650" stroke="#5a2a22" stroke-width="1.2" stroke-linejoin="round"/><path d="M1068 587L1080 609L1056 609Z" fill="#49cbfd" stroke="#1d5970" stroke-width="1.2" stroke-linejoin="round"/><path d="M1213 579L1225 601L1201 601Z" fill="#49cbfd" stroke="#1d5970" stroke-width="1.2" stroke-linejoin="round"/><rect x="998.3" y="217.3" width="22.4" height="22.4" fill="#f26650" stroke="#5a2a22" stroke-width="1.2"/><circle cx="1252" cy="407" r="11" fill="#f26650" stroke="#5a2a22" stroke-width="1.2"/><path d="M1246 522L1258 544L1234 544Z" fill="#f26650" stroke="#5a2a22" stroke-width="1.2" stroke-linejoin="round"/><circle cx="1221" cy="472" r="11" fill="#f26650" stroke="#5a2a22" stroke-width="1.2"/><path d="M1230.5 447L1242.5 469L1218.5 469Z" fill="#f26650" stroke="#5a2a22" stroke-width="1.2" stroke-linejoin="round"/><path d="M1268 551L1280 573L1256 573Z" fill="#49cbfd" stroke="#1d5970" stroke-width="1.2" stroke-linejoin="round"/><circle cx="1243" cy="716" r="11" fill="#49cbfd" stroke="#1d5970" stroke-width="1.2"/><rect x="1022.8" y="689.8" width="22.4" height="22.4" fill="#49cbfd" stroke="#1d5970" stroke-width="1.2"/><path d="M991 622L1003 644L979 644Z" fill="#49cbfd" stroke="#1d5970" stroke-width="1.2" stroke-linejoin="round"/><circle cx="1056" cy="757" r="11" fill="#49cbfd" stroke="#1d5970" stroke-width="1.2"/><rect x="1000.8" y="548.8" width="22.4" height="22.4" fill="#49cbfd" stroke="#1d5970" stroke-width="1.2"/><circle cx="1070" cy="528" r="11" fill="#f26650" stroke="#5a2a22" stroke-width="1.2" opacity="0.9"/></g>
<g filter="url(#sh)" fill="#1c2423" opacity="0.55">
<rect x="335" y="498.5" width="72" height="78"/>
<rect x="548.7" y="228" width="72" height="78"/>
<rect x="569" y="412.3" width="72" height="78"/>
<rect x="574" y="629" width="72" height="78"/>
<rect x="549" y="760" width="72" height="78"/>
<rect x="679" y="179" width="72" height="78"/>
<rect x="678" y="280" width="72" height="78"/>
<rect x="691.5" y="372" width="72" height="78"/>
<rect x="690" y="468" width="72" height="78"/>
<rect x="685" y="567" width="72" height="78"/>
<rect x="691" y="656" width="72" height="78"/>
<rect x="690" y="746" width="72" height="78"/>
<rect x="691" y="837" width="72" height="78"/>
<rect x="852" y="217" width="165" height="73"/>
<rect x="855" y="308.5" width="165" height="73"/>
<rect x="860" y="388.5" width="165" height="73"/>
<rect x="864" y="470" width="165" height="73"/>
<rect x="853" y="558.5" width="165" height="73"/>
<rect x="856" y="650" width="165" height="73"/>
<rect x="861" y="730" width="165" height="73"/>
<rect x="865" y="812" width="165" height="73"/>
<rect x="1052" y="220" width="165" height="73"/>
<rect x="1055" y="311.5" width="165" height="73"/>
<rect x="1060.5" y="391.5" width="165" height="73"/>
<rect x="1065" y="473" width="165" height="73"/>
<rect x="1053" y="561.5" width="165" height="73"/>
<rect x="1056" y="652.5" width="165" height="73"/>
<rect x="1061.5" y="732.5" width="165" height="73"/>
<rect x="1065.5" y="814" width="165" height="73"/>
<rect x="331" y="338" width="166" height="134"/>
<rect x="335" y="603" width="166" height="134"/>
<rect x="991" y="117" width="79" height="51"/>
<rect x="19" y="456" width="254" height="181"/>
<rect x="1277" y="456" width="312" height="181"/>
</g>
<use href="#sn" x="331" y="490.5"/>
<use href="#sn" x="544.7" y="220"/>
<use href="#sn" x="565" y="404.3"/>
<use href="#sn" x="570" y="621"/>
<use href="#sn" x="545" y="752"/>
<use href="#sn" x="675" y="171"/>
<use href="#sn" x="674" y="272"/>
<use href="#sn" x="687.5" y="364"/>
<use href="#sn" x="686" y="460"/>
<use href="#sn" x="681" y="559"/>
<use href="#sn" x="687" y="648"/>
<use href="#sn" x="686" y="738"/>
<use href="#sn" x="687" y="829"/>
<rect x="347.4" y="528.2" width="1.6" height="5" fill="#57d16b"/>
<rect x="581.4" y="442" width="1.6" height="5" fill="#57d16b"/>
<rect x="586.4" y="658.7" width="1.6" height="5" fill="#57d16b"/>
<rect x="561.4" y="789.7" width="1.6" height="5" fill="#57d16b"/>
<use href="#rgb" x="327" y="330"/>
<use href="#rgb" x="331" y="595"/>
<use href="#sift" x="848" y="209"/>
<use href="#sift" x="851" y="300.5"/>
<use href="#sift" x="856" y="380.5"/>
<use href="#sift" x="860" y="462"/>
<use href="#sift" x="849" y="550.5"/>
<use href="#sift" x="852" y="642"/>
<use href="#sift" x="857" y="722"/>
<use href="#sift" x="861" y="804"/>
<use href="#sift" x="1048" y="212"/>
<use href="#sift" x="1051" y="303.5"/>
<use href="#sift" x="1056.5" y="383.5"/>
<use href="#sift" x="1061" y="465"/>
<use href="#sift" x="1049" y="553.5"/>
<use href="#sift" x="1052" y="644.5"/>
<use href="#sift" x="1057.5" y="724.5"/>
<use href="#sift" x="1061.5" y="806"/>
<rect x="868.2" y="344.7" width="3.4" height="4" fill="#57d16b"/>
<rect x="873.2" y="424.7" width="3.4" height="4" fill="#57d16b"/>
<rect x="866.2" y="594.7" width="3.4" height="4" fill="#57d16b"/>
<rect x="869.2" y="686.2" width="3.4" height="4" fill="#57d16b"/>
<rect x="874.2" y="766.2" width="3.4" height="4" fill="#57d16b"/>
<rect x="878.2" y="848.2" width="3.4" height="4" fill="#57d16b"/>
<rect x="1065.2" y="256.2" width="3.4" height="4" fill="#57d16b"/>
<rect x="1068.2" y="347.7" width="3.4" height="4" fill="#57d16b"/>
<rect x="1073.7" y="427.7" width="3.4" height="4" fill="#57d16b"/>
<rect x="1078.2" y="509.2" width="3.4" height="4" fill="#57d16b"/>
<rect x="1078.7" y="850.2" width="3.4" height="4" fill="#57d16b"/>
<use href="#trash" x="987" y="109"/>
<g opacity="0.14" clip-path="url(#bodies)"><rect x="267.35" y="525.65" width="23.3" height="23.3" fill="#f26650" stroke="#5a2a22" stroke-width="1.2"/><circle cx="282.12" cy="537.05" r="11.44" fill="#49cbfd" stroke="#1d5970" stroke-width="1.2"/><rect x="273.59" y="525.15" width="23.3" height="23.3" fill="#49cbfd" stroke="#1d5970" stroke-width="1.2"/><circle cx="288.35" cy="536.54" r="11.44" fill="#57d16b" stroke="#1f5a2c" stroke-width="1.2"/><rect x="279.82" y="524.64" width="23.3" height="23.3" fill="#f26650" stroke="#5a2a22" stroke-width="1.2"/><rect x="282.94" y="524.39" width="23.3" height="23.3" fill="#49cbfd" stroke="#1d5970" stroke-width="1.2"/><circle cx="297.71" cy="535.78" r="11.44" fill="#f26650" stroke="#5a2a22" stroke-width="1.2"/><path d="M300.82 524.09L313.3 546.97L288.34 546.97Z" fill="#57d16b" stroke="#1f5a2c" stroke-width="1.2" stroke-linejoin="round"/><rect x="292.29" y="523.63" width="23.3" height="23.3" fill="#f26650" stroke="#5a2a22" stroke-width="1.2"/><rect x="295.41" y="523.38" width="23.3" height="23.3" fill="#49cbfd" stroke="#1d5970" stroke-width="1.2"/><circle cx="310.18" cy="534.77" r="11.44" fill="#f26650" stroke="#5a2a22" stroke-width="1.2"/><rect x="301.65" y="522.87" width="23.3" height="23.3" fill="#49cbfd" stroke="#1d5970" stroke-width="1.2"/><path d="M316.41 522.82L328.89 545.7L303.93 545.7Z" fill="#f26650" stroke="#5a2a22" stroke-width="1.2" stroke-linejoin="round"/><rect x="307.88" y="522.36" width="23.3" height="23.3" fill="#f26650" stroke="#5a2a22" stroke-width="1.2"/><circle cx="322.65" cy="533.76" r="11.44" fill="#57d16b" stroke="#1f5a2c" stroke-width="1.2"/><rect x="314.12" y="521.86" width="23.3" height="23.3" fill="#f26650" stroke="#5a2a22" stroke-width="1.2"/><circle cx="328.88" cy="533.25" r="11.44" fill="#57d16b" stroke="#1f5a2c" stroke-width="1.2"/><rect x="320.35" y="521.35" width="23.3" height="23.3" fill="#f26650" stroke="#5a2a22" stroke-width="1.2"/><circle cx="337" cy="404" r="11" fill="#49cbfd" stroke="#1d5970" stroke-width="1.2"/><circle cx="341.1" cy="409.9" r="11" fill="#f26650" stroke="#5a2a22" stroke-width="1.2"/><rect x="334" y="404.6" width="22.4" height="22.4" fill="#49cbfd" stroke="#1d5970" stroke-width="1.2"/><path d="M349.3 410.7L361.3 432.7L337.3 432.7Z" fill="#57d16b" stroke="#1f5a2c" stroke-width="1.2" stroke-linejoin="round"/><circle cx="353.4" cy="427.6" r="11" fill="#49cbfd" stroke="#1d5970" stroke-width="1.2"/><circle cx="357.5" cy="433.5" r="11" fill="#f26650" stroke="#5a2a22" stroke-width="1.2"/><circle cx="361.6" cy="439.4" r="11" fill="#49cbfd" stroke="#1d5970" stroke-width="1.2"/><circle cx="365.7" cy="445.3" r="11" fill="#57d16b" stroke="#1f5a2c" stroke-width="1.2"/><rect x="358.6" y="440" width="22.4" height="22.4" fill="#49cbfd" stroke="#1d5970" stroke-width="1.2"/><circle cx="373.9" cy="457.1" r="11" fill="#57d16b" stroke="#1f5a2c" stroke-width="1.2"/><circle cx="378" cy="463" r="11" fill="#49cbfd" stroke="#1d5970" stroke-width="1.2"/><circle cx="381" cy="477" r="11" fill="#49cbfd" stroke="#1d5970" stroke-width="1.2"/><rect x="377.8" y="466.8" width="22.4" height="22.4" fill="#57d16b" stroke="#1f5a2c" stroke-width="1.2"/><path d="M393 473L405 495L381 495Z" fill="#49cbfd" stroke="#1d5970" stroke-width="1.2" stroke-linejoin="round"/><rect x="386.8" y="480.3" width="22.4" height="22.4" fill="#f26650" stroke="#5a2a22" stroke-width="1.2"/><path d="M402 498L414 520L390 520Z" fill="#49cbfd" stroke="#1d5970" stroke-width="1.2" stroke-linejoin="round"/><rect x="380.8" y="488.8" width="22.4" height="22.4" fill="#f26650" stroke="#5a2a22" stroke-width="1.2"/><circle cx="341" cy="664" r="11" fill="#57d16b" stroke="#1f5a2c" stroke-width="1.2"/><path d="M345 645.67L357 667.67L333 667.67Z" fill="#f26650" stroke="#5a2a22" stroke-width="1.2" stroke-linejoin="round"/><rect x="337.8" y="638.13" width="22.4" height="22.4" fill="#49cbfd" stroke="#1d5970" stroke-width="1.2"/><path d="M353 631L365 653L341 653Z" fill="#57d16b" stroke="#1f5a2c" stroke-width="1.2" stroke-linejoin="round"/><path d="M357 623.67L369 645.67L345 645.67Z" fill="#57d16b" stroke="#1f5a2c" stroke-width="1.2" stroke-linejoin="round"/><rect x="349.8" y="616.13" width="22.4" height="22.4" fill="#57d16b" stroke="#1f5a2c" stroke-width="1.2"/><path d="M365 609L377 631L353 631Z" fill="#49cbfd" stroke="#1d5970" stroke-width="1.2" stroke-linejoin="round"/><path d="M369 601.67L381 623.67L357 623.67Z" fill="#f26650" stroke="#5a2a22" stroke-width="1.2" stroke-linejoin="round"/><rect x="361.8" y="594.13" width="22.4" height="22.4" fill="#f26650" stroke="#5a2a22" stroke-width="1.2"/><circle cx="377" cy="598" r="11" fill="#57d16b" stroke="#1f5a2c" stroke-width="1.2"/><path d="M390 580L402 602L378 602Z" fill="#f26650" stroke="#5a2a22" stroke-width="1.2" stroke-linejoin="round"/><circle cx="386" cy="586" r="11" fill="#f26650" stroke="#5a2a22" stroke-width="1.2"/><rect x="384.8" y="569.8" width="22.4" height="22.4" fill="#f26650" stroke="#5a2a22" stroke-width="1.2"/><path d="M399.5 559L411.5 581L387.5 581Z" fill="#57d16b" stroke="#1f5a2c" stroke-width="1.2" stroke-linejoin="round"/><circle cx="526" cy="306" r="11" fill="#f26650" stroke="#5a2a22" stroke-width="1.2"/><rect x="502.8" y="316.8" width="22.4" height="22.4" fill="#f26650" stroke="#5a2a22" stroke-width="1.2"/><rect x="536.8" y="250.8" width="22.4" height="22.4" fill="#f26650" stroke="#5a2a22" stroke-width="1.2"/><circle cx="640" cy="222" r="11" fill="#f26650" stroke="#5a2a22" stroke-width="1.2"/><rect x="620.8" y="213.8" width="22.4" height="22.4" fill="#f26650" stroke="#5a2a22" stroke-width="1.2"/><rect x="654.8" y="204.1" width="22.4" height="22.4" fill="#f26650" stroke="#5a2a22" stroke-width="1.2"/><path d="M640 286L652 308L628 308Z" fill="#f26650" stroke="#5a2a22" stroke-width="1.2" stroke-linejoin="round"/><rect x="632.8" y="288.8" width="22.4" height="22.4" fill="#f26650" stroke="#5a2a22" stroke-width="1.2"/><circle cx="626" cy="294.7" r="11" fill="#f26650" stroke="#5a2a22" stroke-width="1.2"/><path d="M571 350L583 372L559 372Z" fill="#57d16b" stroke="#1f5a2c" stroke-width="1.2" stroke-linejoin="round"/><rect x="799.8" y="225.8" width="22.4" height="22.4" fill="#57d16b" stroke="#1f5a2c" stroke-width="1.2"/><circle cx="946" cy="167" r="11" fill="#57d16b" stroke="#1f5a2c" stroke-width="1.2"/><path d="M844.5 210L856.5 232L832.5 232Z" fill="#57d16b" stroke="#1f5a2c" stroke-width="1.2" stroke-linejoin="round"/><rect x="579.8" y="553.8" width="22.4" height="22.4" fill="#57d16b" stroke="#1f5a2c" stroke-width="1.2"/><rect x="545.8" y="434.8" width="22.4" height="22.4" fill="#49cbfd" stroke="#1d5970" stroke-width="1.2"/><circle cx="504" cy="437" r="11" fill="#49cbfd" stroke="#1d5970" stroke-width="1.2"/><circle cx="510" cy="437.5" r="11" fill="#49cbfd" stroke="#1d5970" stroke-width="1.2"/><circle cx="516" cy="438" r="11" fill="#49cbfd" stroke="#1d5970" stroke-width="1.2"/><circle cx="522" cy="438.5" r="11" fill="#49cbfd" stroke="#1d5970" stroke-width="1.2"/><rect x="520.8" y="427.8" width="22.4" height="22.4" fill="#49cbfd" stroke="#1d5970" stroke-width="1.2"/><rect x="526.8" y="428.3" width="22.4" height="22.4" fill="#49cbfd" stroke="#1d5970" stroke-width="1.2"/><circle cx="553.5" cy="441" r="11" fill="#49cbfd" stroke="#1d5970" stroke-width="1.2"/><circle cx="518" cy="642" r="11" fill="#f26650" stroke="#5a2a22" stroke-width="1.2"/><path d="M528 634L540 656L516 656Z" fill="#f26650" stroke="#5a2a22" stroke-width="1.2" stroke-linejoin="round"/><path d="M534 636L546 658L522 658Z" fill="#f26650" stroke="#5a2a22" stroke-width="1.2" stroke-linejoin="round"/><circle cx="545" cy="648" r="11" fill="#f26650" stroke="#5a2a22" stroke-width="1.2"/><path d="M540 639L552 661L528 661Z" fill="#f26650" stroke="#5a2a22" stroke-width="1.2" stroke-linejoin="round"/><path d="M552 641L564 663L540 663Z" fill="#f26650" stroke="#5a2a22" stroke-width="1.2" stroke-linejoin="round"/><path d="M558 643L570 665L546 665Z" fill="#f26650" stroke="#5a2a22" stroke-width="1.2" stroke-linejoin="round"/><rect x="550.8" y="644.8" width="22.4" height="22.4" fill="#f26650" stroke="#5a2a22" stroke-width="1.2"/><rect x="554.8" y="645.8" width="22.4" height="22.4" fill="#f26650" stroke="#5a2a22" stroke-width="1.2"/><rect x="496.8" y="624.8" width="22.4" height="22.4" fill="#f26650" stroke="#5a2a22" stroke-width="1.2"/><rect x="513.8" y="624.8" width="22.4" height="22.4" fill="#57d16b" stroke="#1f5a2c" stroke-width="1.2"/><path d="M676 394L688 416L664 416Z" fill="#49cbfd" stroke="#1d5970" stroke-width="1.2" stroke-linejoin="round"/><rect x="626.8" y="464.8" width="22.4" height="22.4" fill="#49cbfd" stroke="#1d5970" stroke-width="1.2"/><path d="M683 482L695 504L671 504Z" fill="#49cbfd" stroke="#1d5970" stroke-width="1.2" stroke-linejoin="round"/><circle cx="647" cy="626" r="11" fill="#f26650" stroke="#5a2a22" stroke-width="1.2"/><rect x="667.8" y="593.3" width="22.4" height="22.4" fill="#f26650" stroke="#5a2a22" stroke-width="1.2"/><path d="M655 682L667 704L643 704Z" fill="#f26650" stroke="#5a2a22" stroke-width="1.2" stroke-linejoin="round"/><rect x="648.8" y="680.8" width="22.4" height="22.4" fill="#f26650" stroke="#5a2a22" stroke-width="1.2"/><path d="M688 678.5L700 700.5L676 700.5Z" fill="#f26650" stroke="#5a2a22" stroke-width="1.2" stroke-linejoin="round"/><circle cx="515" cy="730" r="11" fill="#49cbfd" stroke="#1d5970" stroke-width="1.2"/><circle cx="551" cy="787" r="11" fill="#49cbfd" stroke="#1d5970" stroke-width="1.2"/><rect x="534.8" y="767.8" width="22.4" height="22.4" fill="#49cbfd" stroke="#1d5970" stroke-width="1.2"/><path d="M656 759L668 781L644 781Z" fill="#49cbfd" stroke="#1d5970" stroke-width="1.2" stroke-linejoin="round"/><rect x="620.8" y="821.8" width="22.4" height="22.4" fill="#49cbfd" stroke="#1d5970" stroke-width="1.2"/><circle cx="798" cy="214" r="11" fill="#f26650" stroke="#5a2a22" stroke-width="1.2"/><circle cx="763" cy="299" r="11" fill="#f26650" stroke="#5a2a22" stroke-width="1.2"/><circle cx="837" cy="465" r="11" fill="#f26650" stroke="#5a2a22" stroke-width="1.2"/><circle cx="760" cy="436" r="11" fill="#49cbfd" stroke="#1d5970" stroke-width="1.2"/><path d="M785.5 422L797.5 444L773.5 444Z" fill="#49cbfd" stroke="#1d5970" stroke-width="1.2" stroke-linejoin="round"/><circle cx="781" cy="525" r="11" fill="#49cbfd" stroke="#1d5970" stroke-width="1.2"/><rect x="772.8" y="524.3" width="22.4" height="22.4" fill="#f26650" stroke="#5a2a22" stroke-width="1.2"/><circle cx="814" cy="572" r="11" fill="#49cbfd" stroke="#1d5970" stroke-width="1.2"/><path d="M838 544L850 566L826 566Z" fill="#49cbfd" stroke="#1d5970" stroke-width="1.2" stroke-linejoin="round"/><path d="M810.5 607L822.5 629L798.5 629Z" fill="#f26650" stroke="#5a2a22" stroke-width="1.2" stroke-linejoin="round"/><rect x="791.8" y="649.8" width="22.4" height="22.4" fill="#49cbfd" stroke="#1d5970" stroke-width="1.2"/><path d="M824 640L836 662L812 662Z" fill="#49cbfd" stroke="#1d5970" stroke-width="1.2" stroke-linejoin="round"/><path d="M831 811L843 833L819 833Z" fill="#49cbfd" stroke="#1d5970" stroke-width="1.2" stroke-linejoin="round"/><rect x="1010.8" y="154.3" width="22.4" height="22.4" fill="#f26650" stroke="#5a2a22" stroke-width="1.2"/><rect x="990.3" y="198.8" width="22.4" height="22.4" fill="#f26650" stroke="#5a2a22" stroke-width="1.2"/><rect x="1170.8" y="291.3" width="22.4" height="22.4" fill="#f26650" stroke="#5a2a22" stroke-width="1.2"/><rect x="1084.8" y="431.8" width="22.4" height="22.4" fill="#49cbfd" stroke="#1d5970" stroke-width="1.2"/><rect x="1153.8" y="471.8" width="22.4" height="22.4" fill="#49cbfd" stroke="#1d5970" stroke-width="1.2"/><path d="M1201 495L1213 517L1189 517Z" fill="#f26650" stroke="#5a2a22" stroke-width="1.2" stroke-linejoin="round"/><path d="M1068 587L1080 609L1056 609Z" fill="#49cbfd" stroke="#1d5970" stroke-width="1.2" stroke-linejoin="round"/><path d="M1213 579L1225 601L1201 601Z" fill="#49cbfd" stroke="#1d5970" stroke-width="1.2" stroke-linejoin="round"/><rect x="998.3" y="217.3" width="22.4" height="22.4" fill="#f26650" stroke="#5a2a22" stroke-width="1.2"/><circle cx="1252" cy="407" r="11" fill="#f26650" stroke="#5a2a22" stroke-width="1.2"/><path d="M1246 522L1258 544L1234 544Z" fill="#f26650" stroke="#5a2a22" stroke-width="1.2" stroke-linejoin="round"/><circle cx="1221" cy="472" r="11" fill="#f26650" stroke="#5a2a22" stroke-width="1.2"/><path d="M1230.5 447L1242.5 469L1218.5 469Z" fill="#f26650" stroke="#5a2a22" stroke-width="1.2" stroke-linejoin="round"/><path d="M1268 551L1280 573L1256 573Z" fill="#49cbfd" stroke="#1d5970" stroke-width="1.2" stroke-linejoin="round"/><circle cx="1243" cy="716" r="11" fill="#49cbfd" stroke="#1d5970" stroke-width="1.2"/><rect x="1022.8" y="689.8" width="22.4" height="22.4" fill="#49cbfd" stroke="#1d5970" stroke-width="1.2"/><path d="M991 622L1003 644L979 644Z" fill="#49cbfd" stroke="#1d5970" stroke-width="1.2" stroke-linejoin="round"/><circle cx="1056" cy="757" r="11" fill="#49cbfd" stroke="#1d5970" stroke-width="1.2"/><rect x="1000.8" y="548.8" width="22.4" height="22.4" fill="#49cbfd" stroke="#1d5970" stroke-width="1.2"/><circle cx="1070" cy="528" r="11" fill="#f26650" stroke="#5a2a22" stroke-width="1.2" opacity="0.9"/></g>
<g>
<rect x="15" y="448" width="262" height="183" fill="#2c2d30"/>
<rect x="15" y="448" width="262" height="25" fill="#27405a"/>
<rect x="15" y="629" width="262" height="2.5" fill="#000"/>
<text x="145" y="466" font-size="15.5" fill="#fff" text-anchor="middle" textLength="106" lengthAdjust="spacingAndGlyphs" stroke="#fff" stroke-width="0.5">Input stream 2</text>
<rect x="238" y="520" width="39" height="39.5" fill="#3d3d3e"/>
<path d="M249.3 527v25.5l20.7-12.7z" fill="#57d16b"/>
<circle cx="52.7" cy="499.5" r="18" fill="#f26650" stroke="#4a1f19" stroke-width="2"/>
<rect x="33.7" y="531" width="38" height="38" fill="#f26650" stroke="#4a1f19" stroke-width="2"/>
<path d="M52.7 580L72.7 619.5L32.7 619.5Z" fill="#f26650" stroke="#4a1f19" stroke-width="2" stroke-linejoin="round"/>
<text x="52.7" y="507.5" font-size="24" fill="#fff" stroke="#0c0c0c" stroke-width="4.2" stroke-linejoin="round" text-anchor="middle">7</text>
<text x="52.7" y="507.5" font-size="24" fill="#fff" stroke="#fff" stroke-width="0.7" stroke-linejoin="round" text-anchor="middle">7</text>
<text x="52.7" y="557.5" font-size="24" fill="#fff" stroke="#0c0c0c" stroke-width="4.2" stroke-linejoin="round" text-anchor="middle">5</text>
<text x="52.7" y="557.5" font-size="24" fill="#fff" stroke="#fff" stroke-width="0.7" stroke-linejoin="round" text-anchor="middle">5</text>
<text x="52.7" y="613.5" font-size="24" fill="#fff" stroke="#0c0c0c" stroke-width="4.2" stroke-linejoin="round" text-anchor="middle">7</text>
<text x="52.7" y="613.5" font-size="24" fill="#fff" stroke="#fff" stroke-width="0.7" stroke-linejoin="round" text-anchor="middle">7</text>
<circle cx="117.5" cy="499.5" r="18" fill="#57d16b" stroke="#1c4a27" stroke-width="2"/>
<rect x="98.5" y="531" width="38" height="38" fill="#57d16b" stroke="#1c4a27" stroke-width="2"/>
<path d="M117.5 580L137.5 619.5L97.5 619.5Z" fill="#57d16b" stroke="#1c4a27" stroke-width="2" stroke-linejoin="round"/>
<text x="117.5" y="507.5" font-size="24" fill="#fff" stroke="#0c0c0c" stroke-width="4.2" stroke-linejoin="round" text-anchor="middle">5</text>
<text x="117.5" y="507.5" font-size="24" fill="#fff" stroke="#fff" stroke-width="0.7" stroke-linejoin="round" text-anchor="middle">5</text>
<text x="117.5" y="557.5" font-size="24" fill="#fff" stroke="#0c0c0c" stroke-width="4.2" stroke-linejoin="round" text-anchor="middle">8</text>
<text x="117.5" y="557.5" font-size="24" fill="#fff" stroke="#fff" stroke-width="0.7" stroke-linejoin="round" text-anchor="middle">8</text>
<text x="117.5" y="613.5" font-size="24" fill="#fff" stroke="#0c0c0c" stroke-width="4.2" stroke-linejoin="round" text-anchor="middle">7</text>
<text x="117.5" y="613.5" font-size="24" fill="#fff" stroke="#fff" stroke-width="0.7" stroke-linejoin="round" text-anchor="middle">7</text>
<circle cx="183.5" cy="499.5" r="18" fill="#49cbfd" stroke="#164a5e" stroke-width="2"/>
<rect x="164.5" y="531" width="38" height="38" fill="#49cbfd" stroke="#164a5e" stroke-width="2"/>
<path d="M183.5 580L203.5 619.5L163.5 619.5Z" fill="#49cbfd" stroke="#164a5e" stroke-width="2" stroke-linejoin="round"/>
<text x="183.5" y="507.5" font-size="24" fill="#fff" stroke="#0c0c0c" stroke-width="4.2" stroke-linejoin="round" text-anchor="middle">8</text>
<text x="183.5" y="507.5" font-size="24" fill="#fff" stroke="#fff" stroke-width="0.7" stroke-linejoin="round" text-anchor="middle">8</text>
<text x="183.5" y="557.5" font-size="24" fill="#fff" stroke="#0c0c0c" stroke-width="4.2" stroke-linejoin="round" text-anchor="middle">6</text>
<text x="183.5" y="557.5" font-size="24" fill="#fff" stroke="#fff" stroke-width="0.7" stroke-linejoin="round" text-anchor="middle">6</text>
<text x="183.5" y="613.5" font-size="24" fill="#fff" stroke="#0c0c0c" stroke-width="4.2" stroke-linejoin="round" text-anchor="middle">8</text>
<text x="183.5" y="613.5" font-size="24" fill="#fff" stroke="#fff" stroke-width="0.7" stroke-linejoin="round" text-anchor="middle">8</text>
</g>
<g>
<rect x="1273" y="448" width="319" height="183" fill="#2c2d30"/>
<rect x="1273" y="448" width="319" height="25" fill="#27405a"/>
<rect x="1273" y="629" width="319" height="2.5" fill="#000"/>
<text x="1433" y="466" font-size="15.5" fill="#fff" text-anchor="middle" textLength="108" lengthAdjust="spacingAndGlyphs" stroke="#fff" stroke-width="0.5">Output stream</text>
<rect x="1273" y="521" width="40" height="39" fill="#3d3d3e"/>
<path d="M1284.5 528v25l21.5-12.5z" fill="#57d16b"/>
<circle cx="1365.5" cy="499.5" r="15.5" fill="#f26650" stroke="#4a1f19" stroke-width="2"/>
<rect x="1349.5" y="534" width="32" height="32" fill="#585858" stroke="#232323" stroke-width="2"/>
<path d="M1365.5 591L1382 622L1349 622Z" fill="#f26650" stroke="#4a1f19" stroke-width="2" stroke-linejoin="round"/>
<circle cx="1414.4" cy="499.5" r="15.5" fill="#585858" stroke="#232323" stroke-width="2"/>
<rect x="1398.4" y="534" width="32" height="32" fill="#585858" stroke="#232323" stroke-width="2"/>
<path d="M1414.4 591L1430.9 622L1397.9 622Z" fill="#585858" stroke="#232323" stroke-width="2" stroke-linejoin="round"/>
<circle cx="1462.2" cy="499.5" r="15.5" fill="#49cbfd" stroke="#164a5e" stroke-width="2"/>
<rect x="1446.2" y="534" width="32" height="32" fill="#585858" stroke="#232323" stroke-width="2"/>
<path d="M1462.2 591L1478.7 622L1445.7 622Z" fill="#49cbfd" stroke="#164a5e" stroke-width="2" stroke-linejoin="round"/>
<text x="1536.5" y="496.8" font-size="15.5" fill="#fdbb2d" stroke="#3a2a08" stroke-width="2.4" paint-order="stroke" text-anchor="middle" textLength="40" lengthAdjust="spacingAndGlyphs">100%</text>
<rect x="1520" y="511" width="34" height="81" fill="#57d16b"/>
<rect x="1511" y="506.7" width="52" height="5.2" fill="#f8f03a"/>
<g fill="none" stroke="#86b2b0"><circle cx="1536.5" cy="612.5" r="12.6" stroke-width="1"/><circle cx="1536.5" cy="612.5" r="8" stroke-width="3.2"/><path d="M1536.5 612.5L1545.5 603" stroke-width="2.2"/></g><circle cx="1536.5" cy="612.5" r="2" fill="#86b2b0"/><path d="M1543 600l5-1.5v3.6l3.4 0.2-4.4 4.2-4.4 0.4z" fill="#86b2b0"/>
</g>
</g>
<path d="M25 23H54.7L67 35.8H47L66 55.4L56.8 64.1L37.5 45.3V66L25 53.7Z" fill="#f26650"/>
<text x="118" y="52.5" font-size="24" fill="#57d16b" textLength="144.5" lengthAdjust="spacingAndGlyphs" stroke="#57d16b" stroke-width="0.8">Blood Center</text>
<rect x="597" y="25" width="39" height="39" fill="#2d2e30"/><rect x="597" y="25" width="39" height="10" fill="#6ad26f"/><rect x="603" y="28" width="27" height="3.8" fill="#eef3f6"/>
<rect x="607.5" y="39.2" width="19.5" height="19.8" fill="#3c3c3d" stroke="#5dd06e" stroke-width="1"/>
<path d="M612 48.8h7" stroke="#5dd06e" stroke-width="2.2"/><path d="M616.6 44.2l6.2 4.6-6.2 4.6 1.6-4.6z" fill="#5dd06e"/>
<text x="643" y="51.8" font-size="24.5" fill="#fdbb1e" textLength="75.5" lengthAdjust="spacingAndGlyphs" stroke="#fdbb1e" stroke-width="0.8">44 / 50</text>
<g transform="translate(984 29) scale(1.53 1.6)"><use href="#srv"/></g>
<text x="1020.4" y="51.8" font-size="24.5" fill="#f26650" textLength="47.5" lengthAdjust="spacingAndGlyphs" stroke="#f26650" stroke-width="0.8">56.4</text>
<path d="M1086 38.2A7.8 7.8 0 1 0 1086.4 48.6" fill="none" stroke="#f26650" stroke-width="4.5"/>
<path d="M1070.3 40L1072.2 29.2L1078.6 33.6zM1089.4 38.6L1088.1 29.2L1081.6 33.6z" fill="#f26650"/>
<rect x="1074.5" y="40.8" width="6.8" height="5" fill="#f26650"/><rect x="1076.6" y="42.9" width="4.8" height="0.8" fill="#000"/>
<text x="1095.5" y="51.8" font-size="24.5" fill="#f26650" textLength="52" lengthAdjust="spacingAndGlyphs" stroke="#f26650" stroke-width="0.8">/ sec</text>
<g><circle cx="1210" cy="48.3" r="13.7" fill="none" stroke="#cbdcd9" stroke-width="2.2"/><circle cx="1210" cy="48.3" r="10.2" fill="#1fc2f3"/><rect x="1205.4" y="26.2" width="9.2" height="5.6" rx="0.8" fill="#cfdedb"/><rect x="1208.6" y="31" width="2.8" height="4" fill="#cfdedb"/><path d="M1198 33.5l3.2-3.4 3 2.6-3.2 3.4zM1222 33.5l-3.2-3.4-3 2.6 3.2 3.4z" fill="#cfdedb"/><circle cx="1209.3" cy="48.7" r="3.1" fill="#0a0a0a"/><path d="M1208.2 46.6L1215.6 40.4 1211.6 50z" fill="#0a0a0a"/></g>
<text x="1232.5" y="52.9" font-size="25" fill="#4fc8f7" textLength="88.5" lengthAdjust="spacingAndGlyphs" stroke="#4fc8f7" stroke-width="0.8">12.8 Sec</text>
<rect x="1866" y="13" width="51" height="51" fill="#f26650"/>
<rect x="1893" y="17.8" width="5.9" height="15" rx="2.6" fill="#434c4b"/><rect x="1893" y="24" width="5.9" height="9" fill="#434c4b"/>
<path d="M1882.2 39V33.7q0-1.5 1.5-1.5h24.8q1.5 0 1.5 1.5V39z" fill="#2c2d2f"/>
<path d="M1882.2 39H1910V52q0 3-1 5h-4l-0.8-4-1.6 4H1891.5l0.6-9-4.6 9h-2.6l0.5-3-1.8 3H1877.8q4.4-8 4.4-18z" fill="#d7e4e3"/>
<g fill="#f6b1a6" opacity="0.75"><circle cx="1876" cy="43.8" r="2.5"/><circle cx="1869" cy="49.5" r="1.8"/><circle cx="1873.6" cy="54.6" r="2.4"/></g>
<rect x="1598" y="79" width="319" height="107" fill="#f26650"/>
<text x="1758" y="144" font-size="52" fill="#fff" stroke="#6f261b" stroke-width="5.4" stroke-linejoin="round" text-anchor="middle" textLength="102" lengthAdjust="spacingAndGlyphs">Stop</text>
<text x="1758" y="144" font-size="52" fill="#fff" stroke="#fff" stroke-width="1.5" stroke-linejoin="round" text-anchor="middle" textLength="102" lengthAdjust="spacingAndGlyphs">Stop</text>
<rect x="1598" y="190" width="319" height="47.8" fill="#454c4c"/>
<text x="1615.7" y="221.5" font-size="22.5" font-style="italic" fill="#7d7d7d" textLength="74" lengthAdjust="spacingAndGlyphs" stroke="#7d7d7d" stroke-width="0.8">Search</text>
<rect x="1598" y="242" width="297" height="761" fill="#475150"/>
<rect x="1895" y="241.5" width="22" height="486" fill="#3d3c3d"/><rect x="1895" y="727.5" width="22" height="275.5" fill="#676d6b"/>
<path d="M1897.8 263.6h16.2l-8.1-12z" fill="#fff"/><path d="M1897.8 706.8h16.2l-8.1 12z" fill="#fff"/>
<rect x="1898" y="482" width="16" height="1.2" fill="#e8e8e8"/><rect x="1898" y="485" width="16" height="1.2" fill="#e8e8e8"/>
<g clip-path="url(#pn)">
<g filter="url(#sh)" fill="#1c2423" opacity="0.5"><rect x="1684" y="300" width="107" height="112"/><rect x="1616" y="508" width="242" height="104"/><rect x="1680" y="728" width="115" height="72"/></g>
<g transform="translate(1678 285) scale(1.48)"><use href="#sng"/></g>
<g transform="translate(1609 492.5) scale(1.48)">
<rect width="173" height="75" fill="#2b2f2f"/><rect width="173" height="18" fill="#1f4422"/><rect width="18" height="18" fill="#2d6a33"/><rect x="7.6" y="8.6" width="2.3" height="5" fill="#fff"/><circle cx="8.75" cy="6.3" r="1.35" fill="#fff"/><text x="95.5" y="13.2" font-size="11.3" fill="#fff" text-anchor="middle" textLength="102" lengthAdjust="spacingAndGlyphs" stroke="#fff" stroke-width="0.3">Decision tree: color</text><rect x="0" y="18" width="85.6" height="19.6" fill="#121212"/><rect x="0" y="55" width="85.6" height="20" fill="#121212"/><text x="26.5" y="32" font-size="11.5" fill="#f26650" textLength="22.5" lengthAdjust="spacingAndGlyphs" stroke="#f26650" stroke-width="0.3">Red</text><text x="26.5" y="69" font-size="11.5" fill="#f26650" textLength="22.5" lengthAdjust="spacingAndGlyphs" stroke="#f26650" stroke-width="0.3">Red</text><path d="M75 23h10.6l-5.3 9.8z" fill="#4d4f4f"/><path d="M75 60h10.6l-5.3 9.8z" fill="#4d4f4f"/><rect x="85.6" y="26.2" width="71" height="4.2" fill="#101414"/><rect x="85.6" y="63" width="71" height="4.2" fill="#101414"/><use href="#ptg" x="156.5" y="20"/><use href="#ptg" x="156.5" y="57"/><rect x="16" y="44.2" width="70" height="3.9" fill="#101414"/><g transform="translate(0 38.2) scale(1 0.98)"><use href="#ptg"/></g><use href="#gauge" x="92.5" y="38.4"/><text x="122.5" y="49" font-size="10.3" fill="#4fc8f7" textLength="41" lengthAdjust="spacingAndGlyphs" stroke="#4fc8f7" stroke-width="0.3">0.27 Sec</text></g>
<g transform="translate(1673 713.5) scale(1.48)"><use href="#trashg"/></g>
<g transform="translate(1609 901.5) scale(1.48)"><use href="#siftg"/></g>
<g fill="#fff" stroke="#111" stroke-width="1.6"><circle cx="1862.4" cy="251.1" r="4.4"/><rect x="1858.3" y="258" width="8.2" height="18.5" rx="1.2"/></g>
<g fill="#fff" stroke="#111" stroke-width="1.6"><circle cx="1862.4" cy="455.6" r="4.4"/><rect x="1858.3" y="462.5" width="8.2" height="18.5" rx="1.2"/></g>
<g fill="#fff" stroke="#111" stroke-width="1.6"><circle cx="1862.4" cy="660.1" r="4.4"/><rect x="1858.3" y="667" width="8.2" height="18.5" rx="1.2"/></g>
<g fill="#fff" stroke="#111" stroke-width="1.6"><circle cx="1862.4" cy="863.6" r="4.4"/><rect x="1858.3" y="870.5" width="8.2" height="18.5" rx="1.2"/></g>
</g>
<rect x="1598" y="1002" width="93" height="74.5" fill="#475150"/><rect x="1710" y="1003" width="93" height="5" fill="#27302f"/>
<rect x="1710" y="1008" width="93" height="68.5" fill="#575757"/><rect x="1824" y="1008" width="93" height="68.5" fill="#575757"/>
<text x="1644.5" y="1031.8" font-size="21.8" fill="#fff" stroke="#161616" stroke-width="4.2" stroke-linejoin="round" text-anchor="middle" lengthAdjust="spacingAndGlyphs" textLength="45">Base</text>
<text x="1644.5" y="1064.8" font-size="21.8" fill="#fff" stroke="#161616" stroke-width="4.2" stroke-linejoin="round" text-anchor="middle" lengthAdjust="spacingAndGlyphs" textLength="63">Nodes</text>
<text x="1644.5" y="1031.8" font-size="21.8" fill="#fff" stroke="#fff" stroke-width="0.9" stroke-linejoin="round" text-anchor="middle" lengthAdjust="spacingAndGlyphs" textLength="45">Base</text>
<text x="1644.5" y="1064.8" font-size="21.8" fill="#fff" stroke="#fff" stroke-width="0.9" stroke-linejoin="round" text-anchor="middle" lengthAdjust="spacingAndGlyphs" textLength="63">Nodes</text>
<text x="1756" y="1031.8" font-size="21.8" fill="#fff" stroke="#161616" stroke-width="4.2" stroke-linejoin="round" text-anchor="middle" lengthAdjust="spacingAndGlyphs" textLength="76">Custom</text>
<text x="1756" y="1064.8" font-size="21.8" fill="#fff" stroke="#161616" stroke-width="4.2" stroke-linejoin="round" text-anchor="middle" lengthAdjust="spacingAndGlyphs" textLength="63">Nodes</text>
<text x="1756" y="1031.8" font-size="21.8" fill="#fff" stroke="#fff" stroke-width="0.9" stroke-linejoin="round" text-anchor="middle" lengthAdjust="spacingAndGlyphs" textLength="76">Custom</text>
<text x="1756" y="1064.8" font-size="21.8" fill="#fff" stroke="#fff" stroke-width="0.9" stroke-linejoin="round" text-anchor="middle" lengthAdjust="spacingAndGlyphs" textLength="63">Nodes</text>
<text x="1871" y="1031.8" font-size="21.8" fill="#fff" stroke="#161616" stroke-width="4.2" stroke-linejoin="round" text-anchor="middle" lengthAdjust="spacingAndGlyphs" textLength="40">DLL</text>
<text x="1871" y="1064.8" font-size="21.8" fill="#fff" stroke="#161616" stroke-width="4.2" stroke-linejoin="round" text-anchor="middle" lengthAdjust="spacingAndGlyphs" textLength="63">Nodes</text>
<text x="1871" y="1031.8" font-size="21.8" fill="#fff" stroke="#fff" stroke-width="0.9" stroke-linejoin="round" text-anchor="middle" lengthAdjust="spacingAndGlyphs" textLength="40">DLL</text>
<text x="1871" y="1064.8" font-size="21.8" fill="#fff" stroke="#fff" stroke-width="0.9" stroke-linejoin="round" text-anchor="middle" lengthAdjust="spacingAndGlyphs" textLength="63">Nodes</text>
<rect x="15" y="1002" width="85" height="69" fill="#454f4d"/>
<rect x="115" y="1012" width="85" height="59" fill="#3e3c3d"/>
<rect x="217" y="1012" width="85" height="59" fill="#3e3c3d"/>
<rect x="319" y="1012" width="85" height="59" fill="#3e3c3d"/>
<g transform="translate(27 1018.6)"><path d="M4.4 0.4L10.8 6.2H26.2L32.4 0.4Q33.6 0 33.8 1.6L35.2 14.5Q37.8 22 35.6 26.8Q33.4 30.8 30.6 31.6V37.5Q30.8 39.6 33 40.2Q32 42.6 29.4 42Q26.4 41.2 26.6 37.6V32.4H24.6V40.6Q24.8 43 27 43.8Q25.8 45.8 23.2 45.4Q20.2 44.6 20.2 41V32.6H17V41Q17 44.6 14 45.4Q11.4 45.8 10.2 43.8Q12.4 43 12.6 40.6V32.4H10.6V37.6Q10.8 41.2 7.8 42Q5.2 42.6 4.2 40.2Q6.4 39.6 6.6 37.5V31.6Q3.8 30.8 1.6 26.8Q-0.6 22 2 14.5L3.4 1.6Q3.4 0 4.4 0.4Z" fill="#57d16b"/><rect x="6" y="15.4" width="25.2" height="10.6" rx="2.8" fill="#454f4d"/><circle cx="12" cy="20.6" r="2.9" fill="#57d16b"/><circle cx="26" cy="20.6" r="2.9" fill="#57d16b"/></g>
<g transform="translate(127.5 1018.6)"><path d="M4.4 0.4L10.8 6.2H26.2L32.4 0.4Q33.6 0 33.8 1.6L35.2 14.5Q37.8 22 35.6 26.8Q33.4 30.8 30.6 31.6V37.5Q30.8 39.6 33 40.2Q32 42.6 29.4 42Q26.4 41.2 26.6 37.6V32.4H24.6V40.6Q24.8 43 27 43.8Q25.8 45.8 23.2 45.4Q20.2 44.6 20.2 41V32.6H17V41Q17 44.6 14 45.4Q11.4 45.8 10.2 43.8Q12.4 43 12.6 40.6V32.4H10.6V37.6Q10.8 41.2 7.8 42Q5.2 42.6 4.2 40.2Q6.4 39.6 6.6 37.5V31.6Q3.8 30.8 1.6 26.8Q-0.6 22 2 14.5L3.4 1.6Q3.4 0 4.4 0.4Z" fill="#8b8b8b"/><rect x="6" y="15.4" width="25.2" height="10.6" rx="2.8" fill="#3e3c3d"/><circle cx="12" cy="20.6" r="2.9" fill="#8b8b8b"/><circle cx="26" cy="20.6" r="2.9" fill="#8b8b8b"/></g>
<g transform="translate(229.5 1018.6)"><path d="M4.4 0.4L10.8 6.2H26.2L32.4 0.4Q33.6 0 33.8 1.6L35.2 14.5Q37.8 22 35.6 26.8Q33.4 30.8 30.6 31.6V37.5Q30.8 39.6 33 40.2Q32 42.6 29.4 42Q26.4 41.2 26.6 37.6V32.4H24.6V40.6Q24.8 43 27 43.8Q25.8 45.8 23.2 45.4Q20.2 44.6 20.2 41V32.6H17V41Q17 44.6 14 45.4Q11.4 45.8 10.2 43.8Q12.4 43 12.6 40.6V32.4H10.6V37.6Q10.8 41.2 7.8 42Q5.2 42.6 4.2 40.2Q6.4 39.6 6.6 37.5V31.6Q3.8 30.8 1.6 26.8Q-0.6 22 2 14.5L3.4 1.6Q3.4 0 4.4 0.4Z" fill="#8b8b8b"/><rect x="6" y="15.4" width="25.2" height="10.6" rx="2.8" fill="#3e3c3d"/><circle cx="12" cy="20.6" r="2.9" fill="#8b8b8b"/><circle cx="26" cy="20.6" r="2.9" fill="#8b8b8b"/></g>
<g transform="translate(331.5 1018.6)"><path d="M4.4 0.4L10.8 6.2H26.2L32.4 0.4Q33.6 0 33.8 1.6L35.2 14.5Q37.8 22 35.6 26.8Q33.4 30.8 30.6 31.6V37.5Q30.8 39.6 33 40.2Q32 42.6 29.4 42Q26.4 41.2 26.6 37.6V32.4H24.6V40.6Q24.8 43 27 43.8Q25.8 45.8 23.2 45.4Q20.2 44.6 20.2 41V32.6H17V41Q17 44.6 14 45.4Q11.4 45.8 10.2 43.8Q12.4 43 12.6 40.6V32.4H10.6V37.6Q10.8 41.2 7.8 42Q5.2 42.6 4.2 40.2Q6.4 39.6 6.6 37.5V31.6Q3.8 30.8 1.6 26.8Q-0.6 22 2 14.5L3.4 1.6Q3.4 0 4.4 0.4Z" fill="#8b8b8b"/><rect x="6" y="15.4" width="25.2" height="10.6" rx="2.8" fill="#3e3c3d"/><circle cx="12" cy="20.6" r="2.9" fill="#8b8b8b"/><circle cx="26" cy="20.6" r="2.9" fill="#8b8b8b"/></g>
<circle cx="83.3" cy="1042.3" r="10" fill="#fdbb2d" stroke="#5a3d12" stroke-width="3.6"/>
<path d="M737.5 1012H754L746.3 1039L754 1066H737.5L728 1039Z" fill="#57d16b"/>
<path d="M851 1012H866.5L876.6 1039L866.5 1066H851L858.6 1039Z" fill="#969696"/>
<text x="801.5" y="1050.7" font-size="41" fill="#fff" text-anchor="middle" textLength="43" lengthAdjust="spacingAndGlyphs" stroke="#fff" stroke-width="0.8">x3</text>
</svg></body></html>
